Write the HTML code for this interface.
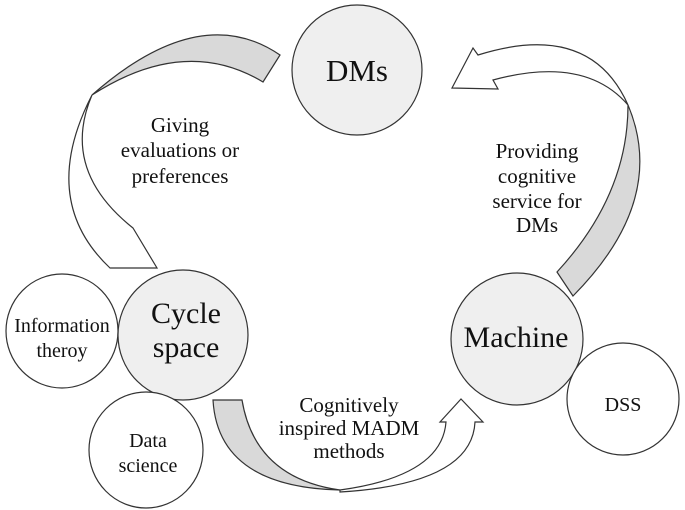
<!DOCTYPE html>
<html><head><meta charset="utf-8"><style>html,body{margin:0;padding:0;background:#fff}svg{display:block}text{font-family:"Liberation Serif",serif;fill:#111;text-anchor:middle}</style></head>
<body>
<svg width="685" height="510" viewBox="0 0 685 510" xmlns="http://www.w3.org/2000/svg">
<g stroke="#333" stroke-width="1.2" stroke-linejoin="miter">
<path d="M280,55 Q200,0 92,95 Q185,35 263,82 Z" fill="#d9d9d9"/>
<path d="M92,95 Q38,200 110,268 L157,268 L133,228 Q60,170 92,95 Z" fill="#fff"/>
<path d="M557,272 L573,296 Q668,200 628,105 Q628,195 557,272 Z" fill="#d9d9d9"/>
<path d="M628,105 Q590,20 478,55 L473,48 L452,88 L498,89 L493,80 Q585,55 628,105 Z" fill="#fff"/>
<path d="M213,400 L242,400 Q255,478 340,490 Q218,487 213,400 Z" fill="#d9d9d9"/>
<path d="M340,492 Q472,484 475,422 L483,422 L461,399 L440,422 L446,422 Q442,476 340,490 Z" fill="#fff"/>
<ellipse cx="357" cy="70" rx="65" ry="65" fill="#efefef"/>
<ellipse cx="62" cy="331" rx="56" ry="57" fill="#fff"/>
<ellipse cx="183" cy="335" rx="65" ry="65" fill="#efefef"/>
<ellipse cx="146" cy="450" rx="57" ry="58" fill="#fff"/>
<ellipse cx="517" cy="339" rx="66" ry="66" fill="#efefef"/>
<ellipse cx="623" cy="399" rx="56" ry="56" fill="#fff"/>
</g>
<text x="357" y="81" font-size="31">DMs</text>
<text x="186" y="323" font-size="30">Cycle</text>
<text x="186" y="357" font-size="30">space</text>
<text x="62" y="332" font-size="20">Information</text>
<text x="62" y="357" font-size="20">theroy</text>
<text x="148" y="447" font-size="20">Data</text>
<text x="148" y="472" font-size="20">science</text>
<text x="516" y="347" font-size="30">Machine</text>
<text x="623" y="411" font-size="20">DSS</text>
<text x="180" y="132" font-size="21">Giving</text>
<text x="180" y="157" font-size="21">evaluations or</text>
<text x="180" y="183" font-size="21">preferences</text>
<text x="537" y="158" font-size="21">Providing</text>
<text x="537" y="183" font-size="21">cognitive</text>
<text x="537" y="208" font-size="21">service for</text>
<text x="537" y="232" font-size="21">DMs</text>
<text x="349" y="412" font-size="21">Cognitively</text>
<text x="349" y="435" font-size="21">inspired MADM</text>
<text x="349" y="458" font-size="21">methods</text>
</svg>
</body></html>
